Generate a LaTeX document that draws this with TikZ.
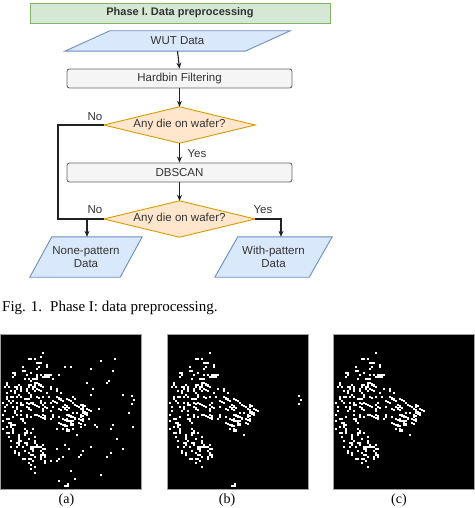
\documentclass[tikz,border=0pt]{standalone}
\usepackage{fontspec}
\setmainfont{Liberation Serif}
\newfontfamily\arialf{Liberation Sans}
\usetikzlibrary{arrows.meta,calc}
\pgfdeclarelayer{bg}
\pgfsetlayers{bg,main}
\definecolor{hdrfill}{HTML}{D5E8D4}
\definecolor{hdrline}{HTML}{82B366}
\definecolor{parafill}{HTML}{DAE8FC}
\definecolor{paraline}{HTML}{6C8EBF}
\definecolor{procfill}{HTML}{F5F5F5}
\definecolor{procline}{HTML}{666666}
\definecolor{decfill}{HTML}{FFE6CC}
\definecolor{decline}{HTML}{D79B00}
\definecolor{txtc}{HTML}{333333}
\definecolor{linec}{HTML}{222222}
\definecolor{panelline}{HTML}{A0A0A0}
\tikzset{
  fctext/.style={font=\arialf\fontsize{11.5}{13}\selectfont, text=txtc, align=center},
  hdrbox/.style={draw=hdrline, fill=hdrfill, line width=0.9pt, inner sep=0pt,
     font=\arialf\bfseries\fontsize{11}{13}\selectfont, text=txtc},
  procbox/.style={fctext, draw=procline, fill=procfill, rounded corners=2.5pt, line width=0.9pt, inner sep=0pt},
  ghost/.style={fctext, inner sep=0pt},
  parashape/.style={draw=paraline, fill=parafill, line width=0.9pt},
  decshape/.style={draw=decline, fill=decfill, line width=0.9pt},
  arr/.style={draw=linec, line width=1.1pt, -{Stealth[length=6pt,width=5pt]}},
  lnk/.style={draw=linec, line width=1.1pt},
  lbl/.style={font=\arialf\fontsize{11.5}{13}\selectfont, text=txtc, inner sep=0pt},
  captext/.style={font=\fontsize{15}{17}\selectfont, inner sep=0pt},
  sublbl/.style={font=\fontsize{14}{16}\selectfont, inner sep=0pt},
  dotc/.style={fill=white}
}
\newcommand\wdot[2]{\fill[dotc] (#1,#2) rectangle ++(1.5,1.5);}
\newcommand\wafercluster{%
  \pgfmathsetseed{4711}%
  \foreach \i in {1,...,190}{%
    \pgfmathsetmacro\ang{108+140*rnd}%
    \pgfmathsetmacro\rad{36+28*rnd}%
    \pgfmathsetmacro\px{2*round((62+\rad*cos(\ang))/2)}%
    \pgfmathsetmacro\py{2*round((76-\rad*sin(\ang))/2)}%
    \wdot{\px}{\py}
  }%
  \foreach \i in {1,...,70}{%
    \pgfmathsetmacro\u{-30+60*rnd}%
    \pgfmathsetmacro\v{-16+32*rnd}%
    \pgfmathsetmacro\sx{2*round((54+0.894*\u-0.447*\v)/2)}%
    \pgfmathsetmacro\sy{2*round((72+0.447*\u+0.894*\v)/2)}%
    \pgfmathtruncatemacro\len{2.6*rnd}%
    \foreach \k in {0,...,\len}{\wdot{\sx+2*\k}{\sy+\k}}%
  }%
  \foreach \i in {1,...,25}{%
    \pgfmathsetmacro\u{-34+68*rnd}%
    \pgfmathsetmacro\v{-22+44*rnd}%
    \pgfmathsetmacro\sx{2*round((54+0.894*\u-0.447*\v)/2)}%
    \pgfmathsetmacro\sy{2*round((72+0.447*\u+0.894*\v)/2)}%
    \wdot{\sx}{\sy}
  }%
}
\newcommand\wafernoise{%
  \pgfmathsetseed{991}%
  \foreach \i in {1,...,75}{%
    \pgfmathsetmacro\ang{360*rnd}%
    \pgfmathsetmacro\rad{70*sqrt(rnd)}%
    \pgfmathsetmacro\px{2*round((70+\rad*cos(\ang))/2)}%
    \pgfmathsetmacro\py{2*round((78-\rad*sin(\ang))/2)}%
    \wdot{\px}{\py}
  }%
}
\newcommand\waferextra{%
  \wdot{131}{61}
  \wdot{133}{65}
  \wdot{131}{69}
  \fill[dotc] (64,151) rectangle ++(5,1.6);
  \wdot{67}{149}
}
\begin{document}
\begin{tikzpicture}[x=1pt,y=-1pt]
\useasboundingbox (0,0) rectangle (474,508);

% header
\node[hdrbox, minimum width=300pt, minimum height=20pt] (hdr) at (180,13) {Phase I. Data preprocessing};

% WUT Data
\node[ghost, minimum width=225pt, minimum height=20pt] (wut) at (177.5,41) {WUT Data};
% Hardbin Filtering
\node[procbox, minimum width=225pt, minimum height=19pt] (hard) at (179.5,78.5) {Hardbin Filtering};
% decision 1
\node[ghost, minimum width=151pt, minimum height=36pt] (d1) at (179.5,125) {Any die on wafer?};
% DBSCAN
\node[procbox, minimum width=225pt, minimum height=19pt] (dbs) at (179.5,172.5) {DBSCAN};
% decision 2
\node[ghost, minimum width=151pt, minimum height=36pt] (d2) at (179.5,219) {Any die on wafer?};
% outputs
\node[ghost, minimum width=112pt, minimum height=40pt] (none) at (86,257) {None-pattern\\Data};
\node[ghost, minimum width=117pt, minimum height=40pt] (with) at (273.5,257) {With-pattern\\Data};

\begin{pgfonlayer}{bg}
  \fill[white] (0,0) rectangle (474,508);
  \path[parashape] ([xshift=45pt]wut.north west) -- (wut.north east) -- ([xshift=-45pt]wut.south east) -- (wut.south west) -- cycle;
  \path[parashape] ([xshift=22pt]none.north west) -- (none.north east) -- ([xshift=-22pt]none.south east) -- (none.south west) -- cycle;
  \path[parashape] ([xshift=23pt]with.north west) -- (with.north east) -- ([xshift=-23pt]with.south east) -- (with.south west) -- cycle;
  \path[decshape] (d1.north) -- (d1.east) -- (d1.south) -- (d1.west) -- cycle;
  \path[decshape] (d2.north) -- (d2.east) -- (d2.south) -- (d2.west) -- cycle;
\end{pgfonlayer}

% connectors
\coordinate (c1) at (58,125);
\coordinate (c2) at (58,219);
\coordinate (c3) at (87,219);
\coordinate (c4) at (281,219);
\draw[arr] (wut.south) -- (hard.north);
\draw[arr] (hard.south) -- (d1.north);
\draw[arr] (d1.south) -- (dbs.north);
\draw[arr] (dbs.south) -- (d2.north);
\draw[lnk] (d1.west) -- (c1) -- (c2) -- (c3);
\draw[arr] (d2.west) -- (c3) -- (c3 |- none.north);
\draw[arr] (d2.east) -- (c4) -- (c4 |- with.north);

% labels
\node[lbl] (no1) at (95,117) {No};
\node[lbl] (yes1) at (197,154) {Yes};
\node[lbl] (no2) at (95,210) {No};
\node[lbl] (yes2) at (263,210) {Yes};

% caption
\node[captext, anchor=base west] (figno) at (2,311) {Fig. 1.};
\node[captext, anchor=base west] (figcap) at (50,311) {Phase I: data preprocessing.};

% wafer panels
\begin{scope}[shift={(0,334)}]
  \begin{scope}
    \clip (0,0) rectangle (141,155);
    \fill[black] (0,0) rectangle (141,155);
    \wafercluster
    \wafernoise
    \waferextra
  \end{scope}
  \draw[panelline, line width=0.8pt] (0,0) rectangle (141,155);
\end{scope}
\begin{scope}[shift={(167,334)}]
  \begin{scope}
    \clip (0,0) rectangle (141,155);
    \fill[black] (0,0) rectangle (141,155);
    \wafercluster
    \waferextra
  \end{scope}
  \draw[panelline, line width=0.8pt] (0,0) rectangle (141,155);
\end{scope}
\begin{scope}[shift={(333,334)}]
  \begin{scope}
    \clip (0,0) rectangle (141,155);
    \fill[black] (0,0) rectangle (141,155);
    \wafercluster
  \end{scope}
  \draw[panelline, line width=0.8pt] (0,0) rectangle (141,155);
\end{scope}

\node[sublbl] (la) at (66.5,500) {(a)};
\node[sublbl] (lb) at (227,500) {(b)};
\node[sublbl] (lc) at (399,500) {(c)};
\end{tikzpicture}
\end{document}
